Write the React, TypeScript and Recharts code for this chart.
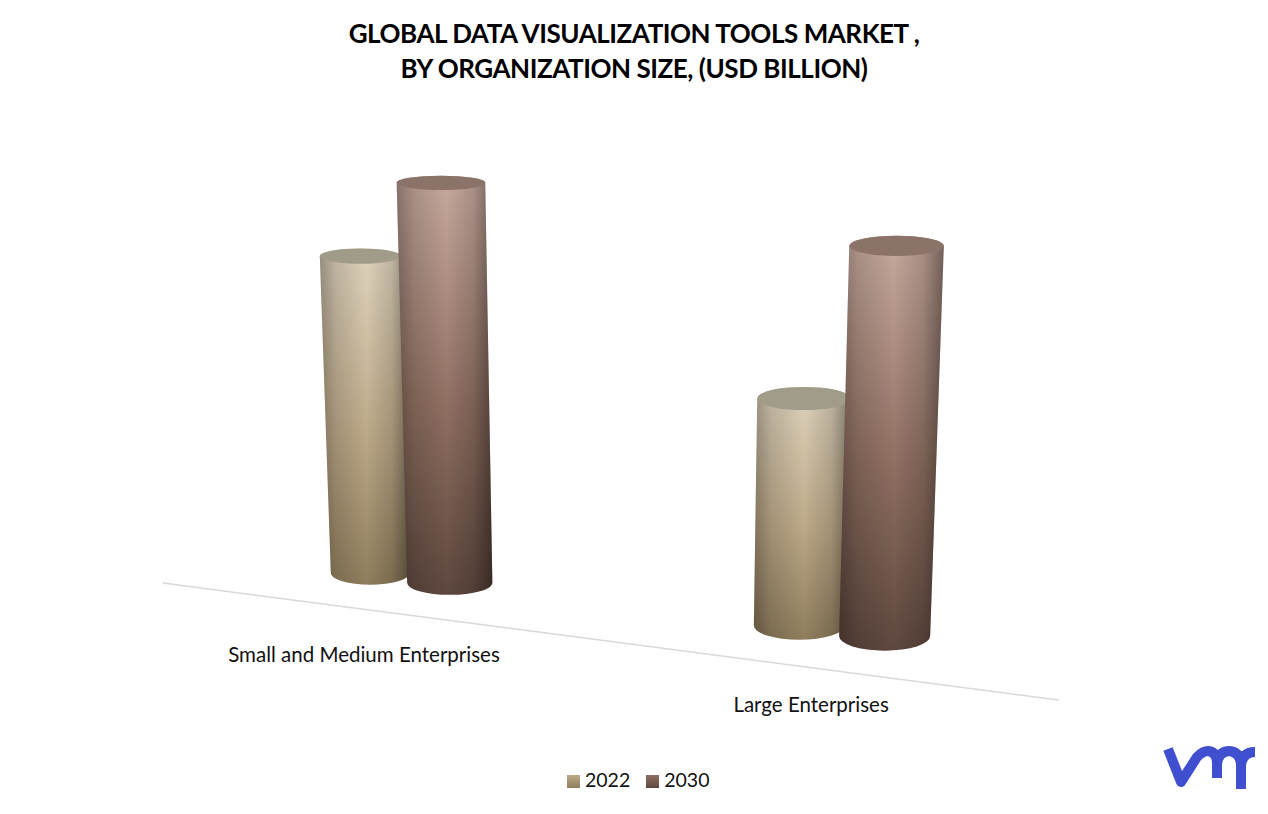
import { Bar, BarChart, Customized, Legend, XAxis, YAxis } from "recharts";

const categories = ["Small and Medium Enterprises", "Large Enterprises"];
const values2022 = [3.17, 2.27];
const values2030 = [4.0, 3.9];

const rows = categories.map((name, i) => ({
  name,
  y2022: values2022[i],
  y2030: values2030[i],
}));

const FONT = "Lato, 'Open Sans', sans-serif";

// fake 3d: the floor falls to the right and the columns lean toward a vanishing point
const FLOOR_SLOPE = 0.122;
const FIRST_BAR_X = 369;
const GROUP_SPREAD = [0.97, 1.04];

const palette: Record<string, { lit: string; mid: string; low: string; cap: string }> = {
  y2022: { lit: "#e0d4be", mid: "#bda988", low: "#8f7d5c", cap: "#a19b89" },
  y2030: { lit: "#c8aa9f", mid: "#8f6f61", low: "#5e473e", cap: "#8b7369" },
};

function Cylinder(props: any) {
  const { x, y, width, height, series, index } = props;
  const groupMid = series === "y2022" ? x + width : x;
  const cx = groupMid + (x + width / 2 - groupMid) * GROUP_SPREAD[index];
  const drop = FLOOR_SLOPE * (cx - FIRST_BAR_X);
  const grow = 0.93 + 0.18 * Math.min(1, Math.pow(Math.max(0, cx - FIRST_BAR_X) / 430, 0.3));
  const baseW = width * grow;
  const topW = baseW * (1 + height * 0.0001);
  const topCx = cx - (650 - cx) * (cx > 650 ? 0.00013 : 0.00011) * height;
  const topY = y + drop;
  const baseY = y + height + drop;
  const radius = (py: number) => 6.8 + 0.012 * (py - 183) + 0.005 * (cx - FIRST_BAR_X);
  const topR = radius(topY);
  const baseR = radius(baseY);
  const body = [
    `M${topCx - topW / 2} ${topY}`,
    `L${cx - baseW / 2} ${baseY}`,
    `A${baseW / 2} ${baseR} 0 0 0 ${cx + baseW / 2} ${baseY}`,
    `L${topCx + topW / 2} ${topY}`,
    `A${topW / 2} ${topR} 0 0 0 ${topCx - topW / 2} ${topY}`,
    "Z",
  ].join(" ");
  return (
    <g key={`${series}-${index}`}>
      <path d={body} fill={`url(#body-${series})`} />
      <path d={body} fill="url(#shade)" />
      <ellipse cx={topCx} cy={topY} rx={topW / 2} ry={topR} fill={palette[series].cap} />
    </g>
  );
}

function Defs() {
  return (
    <defs>
      {Object.keys(palette).map((k) => (
        <linearGradient key={k} id={`body-${k}`} x1="0" y1="0" x2="0" y2="1">
          <stop offset="0%" stopColor={palette[k].lit} />
          <stop offset="55%" stopColor={palette[k].mid} />
          <stop offset="100%" stopColor={palette[k].low} />
        </linearGradient>
      ))}
      <linearGradient id="shade" x1="0" y1="0" x2="1" y2="0">
        <stop offset="0%" stopColor="#000" stopOpacity={0.32} />
        <stop offset="18%" stopColor="#000" stopOpacity={0.14} />
        <stop offset="52%" stopColor="#000" stopOpacity={0} />
        <stop offset="80%" stopColor="#000" stopOpacity={0.14} />
        <stop offset="100%" stopColor="#000" stopOpacity={0.42} />
      </linearGradient>
    </defs>
  );
}

function FloorLine() {
  return <line x1={163} y1={583} x2={1059} y2={700} stroke="#d9d9d9" strokeWidth={1.5} />;
}

function CategoryTick(props: any) {
  const { x, payload } = props;
  const px = x - 46 + (x - 410) * 0.035;
  const py = 661.5 + 0.118 * (x - 410);
  return (
    <text x={px} y={py} textAnchor="middle" fontFamily={FONT} fontSize={20.5} fill="#111">
      {payload.value}
    </text>
  );
}

function LegendRow({ payload }: any) {
  const swatch: Record<string, string> = {
    "2022": `linear-gradient(${palette.y2022.mid}, ${palette.y2022.low})`,
    "2030": `linear-gradient(${palette.y2030.mid}, ${palette.y2030.low})`,
  };
  return (
    <div style={{ display: "flex", gap: 16, fontFamily: FONT, fontSize: 19.5, color: "#111" }}>
      {(payload || []).map((p: any) => (
        <div key={p.value} style={{ display: "flex", alignItems: "center", gap: 5 }}>
          <span style={{ width: 13, height: 13, marginTop: 4, background: swatch[p.value] }} />
          <span>{p.value}</span>
        </div>
      ))}
    </div>
  );
}

export default function App() {
  return (
    <div style={{ position: "absolute", left: 0, top: 0, width: 1268, height: 814, background: "#fff" }}>
      <div
        style={{
          position: "absolute",
          top: 16,
          left: 0,
          width: 1268,
          textAlign: "center",
          fontFamily: FONT,
          fontWeight: 700,
          fontSize: 26,
          letterSpacing: -0.45,
          lineHeight: "35px",
          color: "#000",
        }}
      >
        GLOBAL DATA VISUALIZATION TOOLS MARKET ,
        <br />
        BY ORGANIZATION SIZE, (USD BILLION)
      </div>
      <BarChart
        width={1268}
        height={814}
        data={rows}
        barSize={82}
        barGap={0}
        margin={{ top: 73, right: 210, bottom: 211, left: 194 }}
      >
        <Defs />
        <Customized component={FloorLine} />
        <XAxis dataKey="name" axisLine={false} tickLine={false} height={30} interval={0} tick={<CategoryTick />} />
        <YAxis hide domain={[0, 5]} />
        <Legend
          layout="vertical"
          align="center"
          verticalAlign="middle"
          content={<LegendRow />}
          wrapperStyle={{ left: 567, top: 768, width: 160 }}
        />
        <Bar dataKey="y2022" name="2022" isAnimationActive={false} shape={(p: any) => <Cylinder {...p} series="y2022" />} />
        <Bar dataKey="y2030" name="2030" isAnimationActive={false} shape={(p: any) => <Cylinder {...p} series="y2030" />} />
      </BarChart>
      <svg width={1268} height={814} style={{ position: "absolute", left: 0, top: 0, pointerEvents: "none" }}>
        <path
          d="M1168 749 L1181 782 L1197 757 Q1203 751 1208 751 Q1217 752 1217 763 V778 M1217 766 Q1217 752 1229 751 Q1241 752 1241 766 V789 M1241 766 Q1242 752 1255 752"
          fill="none"
          stroke="#3f4fcf"
          strokeWidth={10}
          strokeLinejoin="round"
        />
      </svg>
    </div>
  );
}
